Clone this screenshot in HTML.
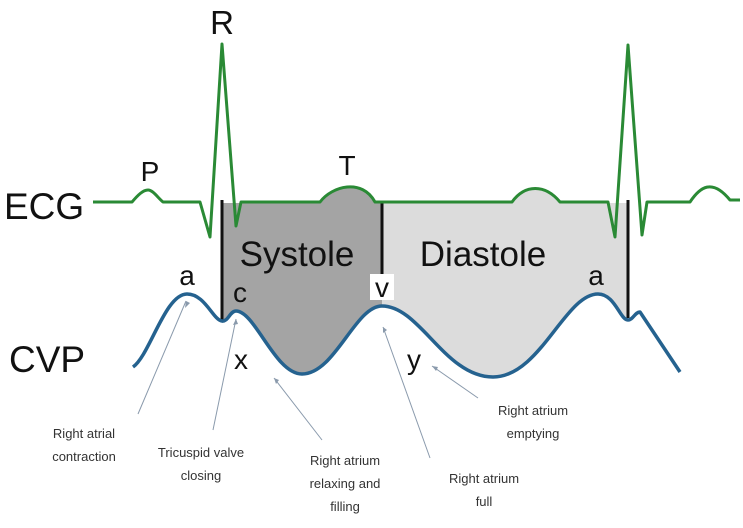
<!DOCTYPE html>
<html><head><style>
html,body{margin:0;padding:0;background:#fff;}
svg{display:block;}
.big{font-family:"Liberation Sans",sans-serif;fill:#111;}
.ann{font-family:"Liberation Sans",sans-serif;font-size:13px;fill:#333;text-anchor:middle;}
</style></head><body>
<svg width="743" height="528" viewBox="0 0 743 528" xmlns="http://www.w3.org/2000/svg">
<path d="M222,203 L320,203 C332,186 362,178 375,203 L382,203 L382,306 C355,306 335,374 302,374 C275,374 255,311 236,311 C230,311 228,322 222,321 Z" fill="#a4a4a4"/>
<path d="M382,203 L512,203 C525,183 545,183 560,203 L628,203 L628,320 C620,320 615,294 598,294 C565,294 540,377 493,377 C445,377 420,306 382,306 Z" fill="#dcdcdc"/>
<line x1="222" y1="200" x2="222" y2="320" stroke="#111" stroke-width="3"/>
<line x1="382" y1="203" x2="382" y2="275" stroke="#111" stroke-width="3"/>
<line x1="628" y1="200" x2="628" y2="318" stroke="#111" stroke-width="3"/>
<path d="M93,202 L132,202 C138,195 143,190 148,190 C153,190 158,198 163,202 L200,202 L210,237 L222,44 L236,226 L241,202 L320,202 C332,186 362,178 375,202 L512,202 C525,184 545,184 560,202 L608,202 L615,237 L628,45 L642,235 L647,202 L690,202 C700,187 712,178 730,200 L740,200" fill="none" stroke="#2a8a35" stroke-width="3" stroke-linejoin="round"/>
<path d="M133,367 C150,355 165,294 187,294 C205,294 213,320 222,321 C228,322 230,311 236,311 C255,311 275,374 302,374 C335,374 355,306 382,306 C420,306 445,377 493,377 C540,377 565,294 598,294 C615,294 620,320 628,320 C633,320 635,312 640,312 L680,372" fill="none" stroke="#25628f" stroke-width="3.5" stroke-linejoin="round"/>
<rect x="370" y="274" width="24" height="26" fill="#fff"/>
<text x="222" y="34" class="big" font-size="33" text-anchor="middle">R</text>
<text x="150" y="181" class="big" font-size="28" text-anchor="middle">P</text>
<text x="347" y="175" class="big" font-size="28" text-anchor="middle">T</text>
<text x="4" y="219" class="big" font-size="37">ECG</text>
<text x="9" y="372" class="big" font-size="37">CVP</text>
<text x="297" y="266" class="big" font-size="35" text-anchor="middle">Systole</text>
<text x="483" y="266" class="big" font-size="35" text-anchor="middle">Diastole</text>
<text x="187" y="285" class="big" font-size="28" text-anchor="middle">a</text>
<text x="240" y="302" class="big" font-size="28" text-anchor="middle">c</text>
<text x="241" y="369" class="big" font-size="28" text-anchor="middle">x</text>
<text x="382" y="297" class="big" font-size="28" text-anchor="middle">v</text>
<text x="414" y="369" class="big" font-size="28" text-anchor="middle">y</text>
<text x="596" y="285" class="big" font-size="28" text-anchor="middle">a</text>
<g stroke="#8a9aac" stroke-width="1" fill="none">
<line x1="138" y1="414" x2="186" y2="301"/>
<line x1="213" y1="430" x2="236" y2="319"/>
<line x1="322" y1="440" x2="274" y2="378"/>
<line x1="430" y1="458" x2="383" y2="327"/>
<line x1="478" y1="398" x2="432" y2="366"/>
</g>
<g fill="#8a9aac">
<path d="M186,301 l-1,7 l5,-5 z"/>
<path d="M236,319 l-3,6 l5,-1 z"/>
<path d="M274,378 l2,6 l3,-4 z"/>
<path d="M383,327 l0,6 l4,-3 z"/>
<path d="M432,366 l4,5 l2,-4 z"/>
</g>
<text class="ann"><tspan x="84" y="438">Right atrial</tspan><tspan x="84" y="461">contraction</tspan></text>
<text class="ann"><tspan x="201" y="457">Tricuspid valve</tspan><tspan x="201" y="480">closing</tspan></text>
<text class="ann"><tspan x="345" y="465">Right atrium</tspan><tspan x="345" y="488">relaxing and</tspan><tspan x="345" y="511">filling</tspan></text>
<text class="ann"><tspan x="484" y="483">Right atrium</tspan><tspan x="484" y="506">full</tspan></text>
<text class="ann"><tspan x="533" y="415">Right atrium</tspan><tspan x="533" y="438">emptying</tspan></text>
</svg>
</body></html>
